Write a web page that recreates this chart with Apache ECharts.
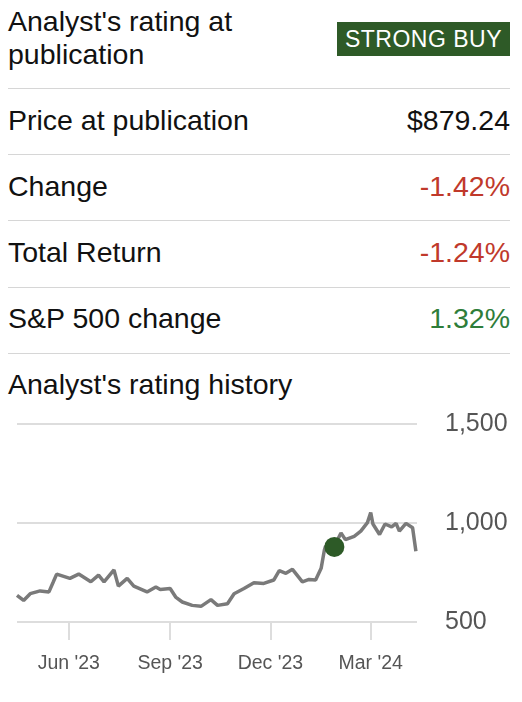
<!DOCTYPE html>
<html><head><meta charset="utf-8">
<script src="https://cdn.jsdelivr.net/npm/echarts@6/dist/echarts.min.js"></script>
<style>
body{margin:0;width:522px;height:702px;background:#fff;font-family:"Liberation Sans",Arial,sans-serif;color:#111;position:relative;overflow:hidden}
.row{position:absolute;left:8px;right:12px;font-size:28.5px;display:flex;justify-content:space-between;align-items:center}
.line{position:absolute;left:8px;right:12px;height:1px;background:#d6d6d6}
.badge{position:absolute;right:12px;top:22px;background:#2e5a27;color:#fff;font-size:23px;padding:3px 8px;letter-spacing:0.5px;line-height:28px}
#chart{position:absolute;left:0;top:400px;width:522px;height:302px}
</style></head><body>
<div class="row" style="top:5px;line-height:33px"><span>Analyst's rating at<br>publication</span></div>
<div class="badge">STRONG BUY</div>
<div class="line" style="top:88px"></div>
<div class="row" style="top:104px"><span>Price at publication</span><span>$879.24</span></div>
<div class="line" style="top:154px"></div>
<div class="row" style="top:170px"><span>Change</span><span style="color:#c0392b">-1.42%</span></div>
<div class="line" style="top:220px"></div>
<div class="row" style="top:236px"><span>Total Return</span><span style="color:#c0392b">-1.24%</span></div>
<div class="line" style="top:287px"></div>
<div class="row" style="top:302px"><span>S&amp;P 500 change</span><span style="color:#2e7d3a">1.32%</span></div>
<div class="line" style="top:353px"></div>
<div class="row" style="top:368px"><span>Analyst's rating history</span></div>
<div id="chart"></div>
<script>
const dates=["2023-04-15","2023-04-21","2023-04-27","2023-05-06","2023-05-14","2023-05-18","2023-05-21","2023-06-02","2023-06-10","2023-06-21","2023-06-28","2023-07-03","2023-07-12","2023-07-16","2023-07-24","2023-07-30","2023-08-11","2023-08-19","2023-08-23","2023-09-01","2023-09-06","2023-09-12","2023-09-21","2023-09-29","2023-10-08","2023-10-14","2023-10-23","2023-10-29","2023-11-07","2023-11-16","2023-11-25","2023-12-04","2023-12-09","2023-12-15","2023-12-21","2023-12-30","2024-01-05","2024-01-11","2024-01-16","2024-01-19","2024-01-20","2024-01-28","2024-02-03","2024-02-07","2024-02-15","2024-02-21","2024-02-27","2024-03-01","2024-03-03","2024-03-09","2024-03-14","2024-03-20","2024-03-24","2024-03-27","2024-04-02","2024-04-08","2024-04-11"];
const prices=[635,609,643,657,652,703,742,720,742,703,737,703,763,681,720,681,652,677,664,669,626,601,584,579,613,584,592,643,669,698,695,712,759,746,766,703,715,712,771,865,882,882,950,916,933,959,1002,1053,995,942,995,980,998,959,998,976,857];
const pubDate="2024-01-28", pubPrice=879.24;
const tickDates=["2023-06-01","2023-09-01","2023-12-01","2024-03-01"];
const yTicks=[500,1000,1500];
const mon=["Jan","Feb","Mar","Apr","May","Jun","Jul","Aug","Sep","Oct","Nov","Dec"];
const ts=d=>+new Date(d+"T00:00:00Z");
const tv=tickDates.map(ts);
const c=echarts.init(document.getElementById('chart'));
c.setOption({animation:false,
grid:{left:17,right:105,top:24,bottom:80},
xAxis:{type:'value',min:ts("2023-04-15"),max:ts("2024-04-12"),
 axisLine:{show:false},splitLine:{show:false},
 axisTick:{show:true,length:18,lineStyle:{color:'#ddd',width:2},customValues:tv},
 axisLabel:{customValues:tv,margin:32,fontSize:19.5,color:'#555',fontFamily:'Liberation Sans',
  formatter:v=>{const d=new Date(v);return mon[d.getUTCMonth()]+" '"+String(d.getUTCFullYear()).slice(2);}}},
yAxis:{type:'value',position:'right',min:500,max:1500,interval:500,
 axisLine:{show:false},axisTick:{show:false},
 splitLine:{lineStyle:{color:'#ddd',width:2}},
 axisLabel:{margin:28,fontSize:25,color:'#555',fontFamily:'Liberation Sans',formatter:v=>v.toLocaleString('en-US')}},
series:[{type:'line',data:dates.map((d,i)=>[ts(d),prices[i]]),showSymbol:false,lineStyle:{color:'#7a7a7a',width:3.5}},
 {type:'scatter',data:[[ts(pubDate),pubPrice]],symbolSize:20,itemStyle:{color:'#2d5a27',opacity:1},z:5}]
});
</script></body></html>
